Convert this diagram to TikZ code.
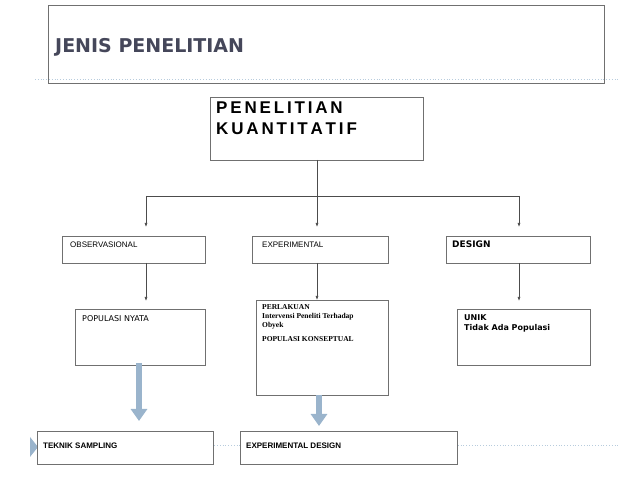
\documentclass[tikz,border=0pt]{standalone}
\usepackage{fontspec}
\setmainfont{Liberation Sans}
\newfontfamily\comic{DejaVu Sans}
\newfontfamily\serifx{Liberation Serif}
\usetikzlibrary{arrows.meta}
\definecolor{bx}{HTML}{707070}
\definecolor{fat}{HTML}{9AB4CC}
\definecolor{dl}{HTML}{B8CCDD}
\definecolor{tc}{HTML}{45475A}
\begin{document}
\begin{tikzpicture}[x=1pt,y=-1pt,
 box/.style={draw=bx,line width=0.8pt},
 lab/.style={anchor=north west,inner sep=0pt,align=left},
 thin/.style={draw=black!70,line width=0.6pt,-{Latex[length=4pt,width=3pt]}},
 fatarrow/.style={draw=fat,line width=6pt,-{Triangle[length=12pt,width=16pt]}}]
\useasboundingbox (0,0) rectangle (638,478);
\draw[dl,dotted,line width=0.8pt] (35,79) -- (620,79);
\draw[dl,dotted,line width=0.8pt] (35,445) -- (620,445);
\fill[fat] (30,437) -- (38,447) -- (30,457) -- cycle;
\draw[box] (48,5) rectangle (604,83);
\node[lab,text=tc,font=\comic\bfseries\fontsize{19}{21}\selectfont] (title) at (55,38) {JENIS PENELITIAN};
\draw[box] (210,97) rectangle (423,160);
\coordinate (kb) at (317,160);
\node[lab,font=\fontsize{17}{21}\selectfont\bfseries] (kt) at (216,102) {P\,E\,N\,E\,L\,I\,T\,I\,A\,N\\K\,U\,A\,N\,T\,I\,T\,A\,T\,I\,F};
\coordinate (j) at (317,196);
\coordinate (jl) at (146,196);
\coordinate (jr) at (519,196);
\draw[black!70,line width=0.6pt] (kb) -- (j) (jl) -- (jr);
\coordinate (ot) at (146,227);
\coordinate (et) at (317,227);
\coordinate (dt) at (519,227);
\draw[thin] (jl) -- (ot);
\draw[thin] (j) -- (et);
\draw[thin] (jr) -- (dt);
\draw[box] (62,236) rectangle (205,263);
\node[lab,font=\fontsize{8}{10}\selectfont] (obs) at (70,242) {OBSERVASIONAL};
\draw[box] (252,236) rectangle (388,263);
\node[lab,font=\fontsize{8}{10}\selectfont] (exp) at (262,242) {EXPERIMENTAL};
\draw[box] (446,236) rectangle (590,263);
\node[lab,font=\comic\bfseries\fontsize{9}{10}\selectfont] (des) at (452,241) {DESIGN};
\coordinate (o1) at (146,263); \coordinate (o2) at (146,301);
\coordinate (e1) at (317,263); \coordinate (e2) at (317,300);
\coordinate (d1) at (519,263); \coordinate (d2) at (519,301);
\draw[thin] (o1) -- (o2);
\draw[thin] (e1) -- (e2);
\draw[thin] (d1) -- (d2);
\draw[box] (75,309) rectangle (205,365);
\node[lab,font=\comic\fontsize{8}{10}\selectfont] (pn) at (82,315) {POPULASI NYATA};
\draw[box] (256,300) rectangle (388,395);
\node[lab,font=\serifx\bfseries\fontsize{7.5}{9}\selectfont] (pk) at (262,304) {PERLAKUAN\\Intervensi Peneliti Terhadap\\Obyek\\[5pt]POPULASI KONSEPTUAL};
\draw[box] (457,309) rectangle (590,365);
\node[lab,font=\comic\bfseries\fontsize{8}{10}\selectfont] (un) at (464,314) {UNIK\\Tidak Ada Populasi};
\coordinate (f1) at (139,363); \coordinate (f2) at (139,421);
\coordinate (g1) at (319,395); \coordinate (g2) at (319,426);
\draw[fatarrow] (f1) -- (f2);
\draw[fatarrow] (g1) -- (g2);
\draw[box,fill=white] (37,431) rectangle (213,464);
\node[lab,font=\bfseries\fontsize{8}{10}\selectfont] (ts) at (43,443) {TEKNIK SAMPLING};
\draw[box,fill=white] (240,431) rectangle (457,464);
\node[lab,font=\bfseries\fontsize{8}{10}\selectfont] (ed) at (246,443) {EXPERIMENTAL DESIGN};
\end{tikzpicture}
\end{document}
